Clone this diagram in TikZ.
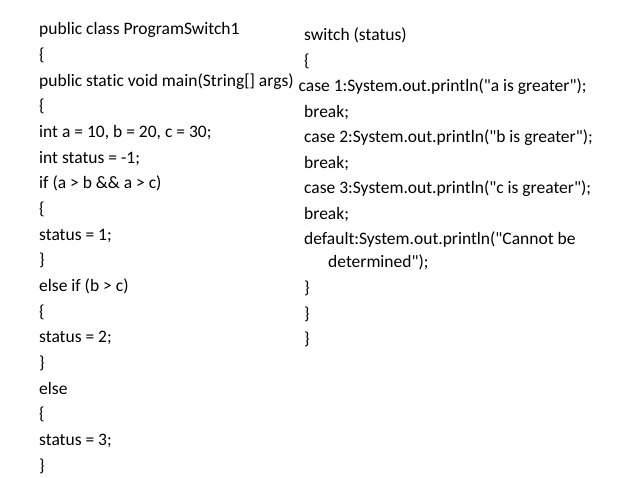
\documentclass[tikz,border=0pt]{standalone}
\usepackage{fontspec}
\newfontfamily\codefont{Carlito}[Ligatures=NoCommon]
\newcommand\dq{\symbol{34}}
\begin{document}
\begin{tikzpicture}[x=1pt,y=-1pt,
  code/.style={anchor=base west,inner sep=0pt,font=\codefont\fontsize{17.5}{20}\selectfont}]
\useasboundingbox[fill=white] (0,0) rectangle (638,478);
% left column
\def\lx{39}
\node[code] (l1) at (\lx,35) {public class ProgramSwitch1};
\node[code] (l2) at (\lx,60.6) {\{};
\node[code] (l3) at (\lx,86.3) {public static void main(String[] args)};
\node[code] (l4) at (\lx,112) {\{};
\node[code] (l5) at (\lx,137.6) {int a = 10, b = 20, c = 30;};
\node[code] (l6) at (\lx,163.3) {int status = -1;};
\node[code] (l7) at (\lx,189) {if (a > b \&\& a > c)};
\node[code] (l8) at (\lx,214.6) {\{};
\node[code] (l9) at (\lx,240.3) {status = 1;};
\node[code] (l10) at (\lx,266) {\}};
\node[code] (l11) at (\lx,291.6) {else if (b > c)};
\node[code] (l12) at (\lx,317.3) {\{};
\node[code] (l13) at (\lx,343) {status = 2;};
\node[code] (l14) at (\lx,368.6) {\}};
\node[code] (l15) at (\lx,394.3) {else};
\node[code] (l16) at (\lx,420) {\{};
\node[code] (l17) at (\lx,445.6) {status = 3;};
\node[code] (l18) at (\lx,471.3) {\}};
% right column
\def\rx{304}
\node[code] (r1) at (\rx,41) {switch (status)};
\node[code] (r2) at (\rx,66.5) {\{};
\node[code] (r3) at (298.5,92) {case 1:System.out.println("a is greater");};
\node[code] (r4) at (\rx,117.5) {break;};
\node[code] (r5) at (\rx,143) {case 2:System.out.println("b is greater");};
\node[code] (r6) at (\rx,168.5) {break;};
\node[code] (r7) at (\rx,194) {case 3:System.out.println("c is greater");};
\node[code] (r8) at (\rx,219.5) {break;};
\node[code] (r9) at (\rx,245) {default:System.out.println("Cannot be};
\node[code] (r10) at (328,268) {determined");};
\node[code] (r11) at (\rx,294) {\}};
\node[code] (r12) at (\rx,319.5) {\}};
\node[code] (r13) at (\rx,345) {\}};
\end{tikzpicture}
\end{document}
